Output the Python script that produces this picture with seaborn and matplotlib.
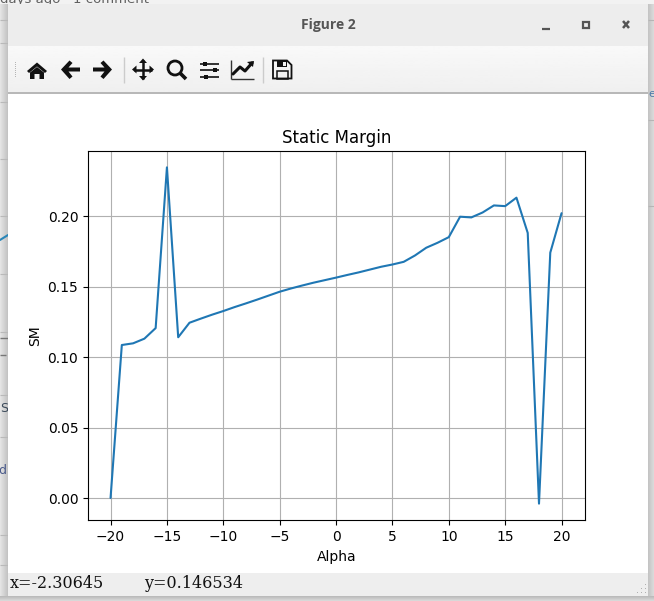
import numpy as np
import pandas as pd
import matplotlib
matplotlib.use("Agg")
import matplotlib.pyplot as plt
import seaborn as sns
from matplotlib.patches import Rectangle, Polygon, Circle

sns.set_style("ticks")
plt.rcParams['font.family'] = ['DejaVu Sans']
plt.rcParams['text.color'] = 'black'
plt.rcParams['axes.labelcolor'] = 'black'

alpha = list(range(-20, 21))
sm = [0.0, 0.1085, 0.1097, 0.113, 0.1205, 0.2345, 0.114, 0.1243, 0.1272, 0.13,
      0.1326, 0.1354, 0.138, 0.1407, 0.1435, 0.1463, 0.1486, 0.1507, 0.1527, 0.1545,
      0.1563, 0.1582, 0.16, 0.162, 0.164, 0.1656, 0.1675, 0.172, 0.1775, 0.181,
      0.185, 0.1995, 0.199, 0.2025, 0.2075, 0.207, 0.213, 0.188, -0.004, 0.174, 0.202]
x_ticks = [-20, -15, -10, -5, 0, 5, 10, 15, 20]
y_ticks = [0.00, 0.05, 0.10, 0.15, 0.20]
title = "Static Margin"
x_label = "Alpha"
y_label = "SM"
window_title = "Figure 2"
status_x = "x=-2.30645"
status_y = "y=0.146534"

W, H = 654, 601
fig = plt.figure(figsize=(W / 100, H / 100), dpi=100, facecolor="#d6d6d6")

# window chrome, in pixel coordinates
bg = fig.add_axes([0, 0, 1, 1], zorder=0)
bg.set_xlim(0, W)
bg.set_ylim(H, 0)
bg.axis("off")

def grad(x0, x1, y0, y1, c0, c1, vertical=False):
    g = np.linspace(c0, c1, 32)
    g = g.reshape(-1, 1) if vertical else g.reshape(1, -1)
    bg.imshow(g, extent=(x0, x1, y1, y0), cmap="gray", vmin=0, vmax=1,
              aspect="auto", zorder=1, interpolation="bilinear")

def rect(x0, y0, x1, y1, c, z=2):
    bg.add_patch(Rectangle((x0, y0), x1 - x0, y1 - y0, fc=c, ec="none", zorder=z))

def line(x0, y0, x1, y1, c="#000000", lw=1.0, z=3):
    bg.plot([x0, x1], [y0, y1], color=c, lw=lw, zorder=z, solid_capstyle="butt")

# desktop behind the window
grad(0, 8, 0, H, 0.90, 0.76)
grad(648, 654, 0, H, 0.76, 0.86)
grad(0, W, 596, H, 0.72, 0.86, vertical=True)
rect(0, 0, W, 4, "#f2f2f2", 1.5)
for yy in [20, 43, 102, 159, 216, 274, 332, 395, 437, 535, 565]:
    line(0, yy, 8, yy, "#b9b9b9", 0.8, 2)
for yy in [20, 120, 206]:
    line(648, yy, 654, yy, "#b5b5b5", 0.8, 2)
line(0, 338, 8, 338, "#777777", 1.0, 2)
line(0, 355, 6, 355, "#777777", 1.0, 2)
bg.plot([0, 8], [240, 235], color="#2a86b8", lw=1.5, zorder=2)
bg.text(0, 408, "S", fontsize=9, color="#3b4a5a", va="center", ha="left", zorder=2)
bg.text(-2, 470, "d", fontsize=9, color="#4a5a8a", va="center", ha="left", zorder=2)
bg.text(0, -1, "days ago · 1 comment", fontsize=9.5, color="#606060", va="center", ha="left",
        zorder=2, clip_on=True)
bg.text(648, 94, "e", fontsize=8, color="#4a78a8", va="center", ha="left", zorder=2)

# window
rect(8, 4, 648, 46, "#ededed")
grad(8, 648, 46, 92, 0.975, 0.94, vertical=True)
bg.images[-1].set_zorder(2.2)
rect(8, 92, 648, 93.5, "#b8b8b8", 2.3)
rect(8, 93.5, 648, 573, "#ffffff", 2.3)
rect(8, 573, 648, 596, "#eeeeee", 2.3)

bg.text(328, 25, window_title, fontsize=10, fontweight="bold", color="#555555",
        family=["Open Sans", "DejaVu Sans"], ha="center", va="center", zorder=4)
# window buttons
line(542, 28.5, 550, 28.5, "#555555", 1.6)
bg.add_patch(Rectangle((583, 22), 6, 6, fc="none", ec="#555555", lw=1.6, zorder=4))
line(623, 21, 629, 28, "#555555", 1.8)
line(629, 21, 623, 28, "#555555", 1.8)

# toolbar icons
K = "#111111"
def poly(pts, fc=K, ec="none", lw=0):
    bg.add_patch(Polygon(pts, closed=True, fc=fc, ec=ec, lw=lw, zorder=4))

for xx in (14, 15.5):
    for yy in range(62, 78, 2):
        rect(xx - .3, yy, xx + .3, yy + 1, "#b5b5b5", 4)
line(123.5, 57, 123.5, 83, "#cccccc", 1)
line(262.5, 57, 262.5, 83, "#cccccc", 1)
# home
poly([(27, 71), (37, 62.5), (47, 71), (45, 73), (37, 66.5), (29, 73)])
poly([(30, 72.5), (37, 67), (44, 72.5), (44, 79), (39.5, 79), (39.5, 74), (34.5, 74), (34.5, 79), (30, 79)])
# arrows
poly([(61, 69.5), (69.5, 60.5), (72.5, 63), (68.5, 67.5), (80, 67.5), (80, 71.5), (68.5, 71.5), (72.5, 76.5), (69.5, 79)])
poly([(112, 69.5), (103.5, 60.5), (100.5, 63), (104.5, 67.5), (93, 67.5), (93, 71.5), (104.5, 71.5), (100.5, 76.5), (103.5, 79)])
# move
line(134, 69.5, 152, 69.5, K, 1.8, 4)
line(143, 60, 143, 79, K, 1.8, 4)
poly([(132, 69.5), (136.5, 65.5), (136.5, 73.5)])
poly([(154, 69.5), (149.5, 65.5), (149.5, 73.5)])
poly([(143, 58.5), (139, 63), (147, 63)])
poly([(143, 80.5), (139, 76), (147, 76)])
# zoom
bg.add_patch(Circle((175, 68), 7.0, fc="none", ec=K, lw=2.0, zorder=4))
line(180, 73, 186, 79, K, 2.6, 4)
# sliders
for yy, xk in ((64, 205), (70, 215), (77, 206)):
    line(199.5, yy, 219, yy, K, 1.2, 4)
    rect(xk - 2, yy - 2, xk + 2, yy + 2, K, 4)
# chart icon
line(231, 60, 231, 79, "#333333", 1.0, 4)
line(230.5, 78.5, 254, 78.5, "#333333", 1.0, 4)
bg.plot([233, 240, 245, 252], [74, 67, 71, 63], color=K, lw=2.2, zorder=4)
poly([(254, 61), (247, 62), (253, 67)])
# save
poly([(273, 60.5), (287, 60.5), (291.5, 65), (291.5, 78.5), (273, 78.5)], fc="none", ec=K, lw=1.3)
rect(277, 61, 287, 67, K, 4)
rect(283, 62, 285.5, 66, "#f4f4f4", 5)
bg.add_patch(Rectangle((277, 71), 10.5, 7.5, fc="none", ec=K, lw=1.1, zorder=4))

# status bar
bg.text(10, 584, status_x, fontsize=11.5, family="DejaVu Serif", color="#111111", va="center", zorder=4)
bg.text(144, 584, status_y, fontsize=11.5, family="DejaVu Serif", color="#111111", va="center", zorder=4)
for (dx, dy) in [(645, 584), (645, 588), (645, 592), (641, 588), (641, 592), (637, 592)]:
    rect(dx, dy, dx + 1, dy + 1, "#b0b0b0", 4)

# the chart
L, R, T, B = 88, 585, 151, 520
ax = fig.add_axes([L / W, 1 - B / H, (R - L) / W, (B - T) / H], zorder=5)
data = pd.DataFrame({"Alpha": alpha, "SM": sm})
sns.lineplot(data=data, x="Alpha", y="SM", ax=ax, color="#1f77b4", linewidth=1.5, errorbar=None)
ax.set_xlim(-22, 22.08)
ax.set_ylim(-0.0156, 0.2461)
ax.set_xticks(x_ticks)
ax.set_yticks(y_ticks)
ax.set_yticklabels([f"{v:.2f}" for v in y_ticks])
ax.set_xticklabels([str(v).replace("-", "\u2212") for v in x_ticks])
ax.grid(True, color="#b0b0b0", linewidth=0.8)
ax.set_axisbelow(True)
ax.tick_params(direction="out", length=3.5, width=0.8, labelsize=10, colors="black", pad=3.5)
for s in ax.spines.values():
    s.set_visible(True)
    s.set_linewidth(0.8)
    s.set_color("black")
ax.set_title(title, fontsize=12, pad=6, color="black")
ax.set_xlabel(x_label, fontsize=10, labelpad=4.5)
ax.set_ylabel(y_label, fontsize=10, labelpad=4)
fig.savefig("out.png", dpi=100)
